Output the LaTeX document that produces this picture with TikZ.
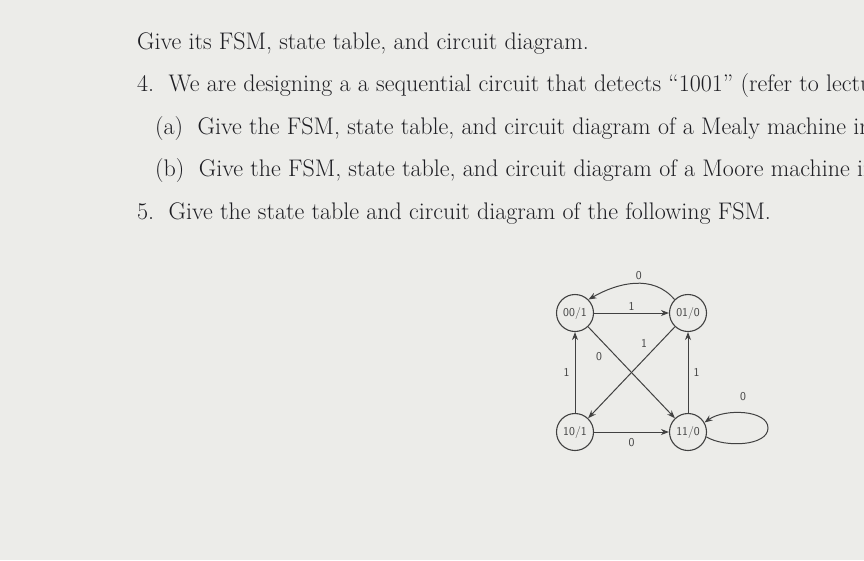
\documentclass[tikz,border=0pt]{standalone}
\usetikzlibrary{arrows.meta}
\definecolor{paper}{RGB}{236,236,233}
\definecolor{ink}{RGB}{30,30,35}
\definecolor{fsm}{RGB}{65,65,65}
\begin{document}
\begin{tikzpicture}[x=1pt,y=-1pt,
  txt/.style={anchor=base west,inner sep=0,text=ink,font=\fontsize{24}{28}\selectfont},
  st/.style={circle,draw=fsm,line width=1.1pt,minimum size=37pt,inner sep=0,font=\sffamily\fontsize{12}{14}\selectfont,text=fsm},
  tr/.style={draw=fsm,line width=1pt,-{Stealth[length=8pt,width=6pt]}},
  lb/.style={font=\sffamily\fontsize{12}{14}\selectfont,text=fsm,inner sep=1pt}]
\useasboundingbox (0,0) rectangle (864,560);
\fill[paper] (0,0) rectangle (864,560);
\begin{scope}
\clip (0,0) rectangle (864,560);
\node[txt] (l1) at (137,49) {Give its FSM, state table, and circuit diagram.};
\node[txt] (l2) at (137,91) {4.\ \ We are designing a a sequential circuit that detects ``1001'' (refer to lecture};
\node[txt] (l3) at (155,134) {(a)\ \ Give the FSM, state table, and circuit diagram of a Mealy machine in};
\node[txt] (l4) at (155,176) {(b)\ \ Give the FSM, state table, and circuit diagram of a Moore machine in};
\node[txt] (l5) at (137,219) {5.\ \ Give the state table and circuit diagram of the following FSM.};
\end{scope}
\node[st] (s00) at (575,313) {00/1};
\node[st] (s01) at (688,313) {01/0};
\node[st] (s10) at (575,432) {10/1};
\node[st] (s11) at (688,432) {11/0};
\draw[tr] (s00) -- node[lb,above=1pt] {1} (s01);
\draw[tr] (s01.north west) to[out=130,in=30] node[lb,above=2pt,pos=0.45] {0} (s00.north east);
\draw[tr] (s00) -- (s11);
\node[lb] (z1) at (599,357) {0};
\draw[tr] (s01) -- (s10);
\node[lb] (o1) at (644,343) {1};
\draw[tr] (s10) -- node[lb,left=4pt] {1} (s00);
\draw[tr] (s11) -- node[lb,right=4pt] {1} (s01);
\draw[tr] (s10) -- node[lb,below=5pt] {0} (s11);
\draw[tr] (s11.-15) .. controls (725,448) and (768,446) .. (768,428)
  .. controls (768,410) and (725,408) .. (s11.30);
\node[lb] (z2) at (743,397) {0};
\end{tikzpicture}
\end{document}
